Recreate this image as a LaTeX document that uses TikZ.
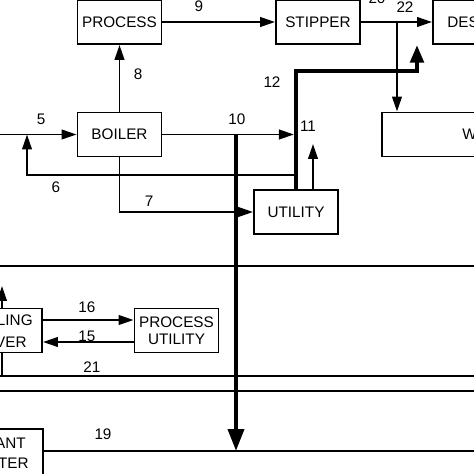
\documentclass[tikz,border=0pt]{standalone}
\usepackage{fontspec}
\setmainfont{Liberation Sans}
\usetikzlibrary{arrows.meta}

\begin{document}
\begin{tikzpicture}[x=0.02cm, y=-0.02cm, font=\fontsize{8.7}{10.4}\selectfont,
		box_style/.style={rectangle,draw=black,line width=1.1pt,fill=white,minimum width=1.68cm,minimum height=0.88cm,inner sep=1pt},
		text_style/.style={inner sep=0pt},
		edge_style/.style={draw=black,line width=1.1pt},
		flow_style/.style={edge_style,-{Triangle[length=8.5pt,width=5.5pt]}},
		main_style/.style={draw=black,line width=2.4pt}]
		
		\useasboundingbox (0,0) rectangle (474,474);
		\clip (0,0) rectangle (474,474);
		
		% units
		\node[box_style] (process) at (119.5,22)  {PROCESS};
		\node[box_style] (stipper) at (318,22)  {STIPPER};
		\node[box_style,anchor=west,minimum width=2cm] (des) at (432,22)  {};
		\node[text_style,anchor=west] (des_text) at (447,22)  {DES};
		\node[box_style] (boiler) at (119.5,134.5)  {BOILER};
		\node[box_style] (utility) at (296,212)  {UTILITY};
		\node[box_style,anchor=west,minimum width=2.4cm] (wa) at (381,134.5)  {};
		\node[text_style,anchor=west] (wa_text) at (462,134.5)  {W};
		\node[box_style,anchor=east] (cooling) at (43,330.5)  {};
		\node[text_style,anchor=east] (cooling_a) at (33,320)  {LING};
		\node[text_style,anchor=east] (cooling_b) at (27,342)  {VER};
		\node[box_style,align=center] (putility) at (176.5,330.5)  {PROCESS\\[-1pt]UTILITY};
		\node[box_style,anchor=north east,minimum height=1.2cm] (plant) at (44,428)  {};
		\node[text_style,anchor=east] (plant_a) at (26,443)  {ANT};
		\node[text_style,anchor=east] (plant_b) at (29,463)  {TER};
		
		% bends and free ends
		\coordinate (c5) at (-2,134.5);
		\coordinate (c6) at (27,175);
		\coordinate (c7) at (119.5,212);
		\coordinate (c10) at (236,134.5);
		\coordinate (c11) at (313,144);
		\coordinate (c12a) at (296,71);
		\coordinate (c12b) at (417,71);
		\coordinate (c22) at (397,22);
		\coordinate (c19) at (476,451);
		\coordinate (ct) at (2,286);
		\coordinate (cb) at (2,376);
		\coordinate (h1w) at (-2,266);
		\coordinate (h1e) at (476,266);
		\coordinate (h2w) at (-2,376);
		\coordinate (h2e) at (476,376);
		\coordinate (h3w) at (-2,391);
		\coordinate (h3e) at (476,391);
		
		% streams
		\draw[flow_style] (process) -- (stipper);
		\draw[flow_style] (stipper.east) -- (des.west);
		\draw[flow_style] (c22) -- (c22 |- wa.north);
		\draw[flow_style] (c5) -- (boiler.west);
		\draw[flow_style] (boiler) -- (process);
		\draw[flow_style] (boiler.south) -- (c7) -- (utility.west);
		\draw[flow_style,shorten >=1.2pt] (boiler.east) -- (c12a |- c10);
		\draw[flow_style] (c12a |- c6) -- (c6) -- (c6 |- c5);
		\draw[flow_style] (c11 |- utility.north) -- (c11);
		\draw[main_style,-{Triangle[length=10pt,width=7.5pt]}] (utility.north) -- (c12a) -- (c12b) -- (c12b |- des.south);
		\draw[main_style,-{Triangle[length=12.5pt,width=9pt]}] (c10) -- (c10 |- c19);
		\draw[edge_style] (h1w) -- (h1e);
		\draw[edge_style] (h2w) -- (h2e);
		\draw[edge_style] (h3w) -- (h3e);
		\draw[edge_style] (plant.north east |- c19) -- (c19);
		\draw[flow_style] (cooling.north -| ct) -- (ct);
		\draw[edge_style] (cooling.south -| cb) -- (cb);
		\draw[flow_style] (cooling.east |- cooling_a) -- (putility.west |- cooling_a);
		\draw[flow_style] (putility.west |- cooling_b) -- (cooling.east |- cooling_b);
		
		% stream numbers
		\node[text_style] (l9) at (199,6)  {9};
		\node[text_style] (l20) at (377,-2)  {20};
		\node[text_style] (l22) at (405,7)  {22};
		\node[text_style] (l8) at (138,74)  {8};
		\node[text_style] (l5) at (41,119)  {5};
		\node[text_style] (l6) at (56,187)  {6};
		\node[text_style] (l7) at (149,201)  {7};
		\node[text_style] (l10) at (237,119)  {10};
		\node[text_style] (l12) at (272,82)  {12};
		\node[text_style] (l11) at (308,126)  {11};
		\node[text_style] (l16) at (87,307)  {16};
		\node[text_style] (l15) at (87,336)  {15};
		\node[text_style] (l21) at (92,367)  {21};
		\node[text_style] (l19) at (103,434)  {19};
		
\end{tikzpicture}
\end{document}
